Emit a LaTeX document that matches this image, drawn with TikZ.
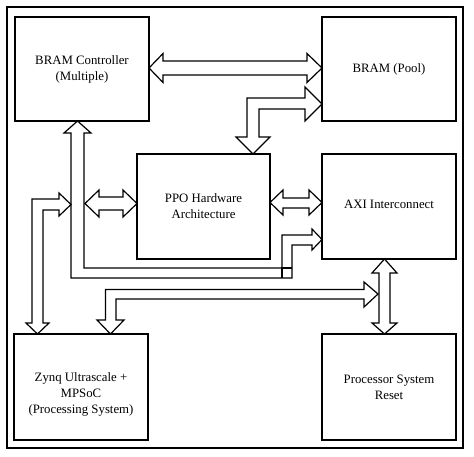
\documentclass[tikz,border=0pt]{standalone}
\usepackage{fontspec}
\setmainfont{Liberation Serif}
\begin{document}
\begin{tikzpicture}[x=1pt,y=-1pt,
  box/.style={draw, line width=1.3pt, rectangle, inner sep=0pt, align=center,
    font=\fontsize{12.8}{16}\selectfont},
  blockarrow/.style={draw, fill=white, line width=1.2pt, line join=miter},
  label/.style={align=center, inner sep=0pt, font=\fontsize{12.8}{16}\selectfont}]
\useasboundingbox (0,0) rectangle (474,456);
% outer frame
\draw[line width=1.5pt] (7,7) rectangle (463,448);
% boxes
\node[box, minimum width=134pt, minimum height=104pt] (bc)  at (82,69)    {BRAM Controller\\(Multiple)};
\node[box, minimum width=134pt, minimum height=104pt] (bp)  at (389,69)   {BRAM (Pool)};
\node[box, minimum width=133pt, minimum height=105pt] (ppo) at (203.5,206.5) {PPO Hardware\\Architecture};
\node[box, minimum width=134pt, minimum height=105pt] (axi) at (389,206.5) {};
\node[label] (axitext) at (389,204) {AXI Interconnect};
\node[box, minimum width=134pt, minimum height=106pt] (zynq) at (81,387)  {};
\node[label] (zynqtext) at (81,394) {Zynq Ultrascale +\\MPSoC\\(Processing System)};
\node[box, minimum width=134pt, minimum height=106pt] (psr) at (389,387)  {Processor System\\Reset};
% A: BRAM Controller <-> BRAM (Pool)
\draw[blockarrow] (149,68) -- (163,53.5) -- (163,61) -- (307,61) -- (307,53.5) -- (322,68)
  -- (307,82.5) -- (307,75) -- (163,75) -- (163,82.5) -- cycle;
% B: PPO <-> BRAM (Pool), bent
\draw[blockarrow] (322,104) -- (305,87) -- (305,98) -- (247,98) -- (247,137) -- (236,137)
  -- (253,154) -- (270,137) -- (259,137) -- (259,109) -- (305,109) -- (305,121) -- cycle;
% C: BRAM Controller -> AXI, bent
\draw[blockarrow] (77.5,121) -- (91,133) -- (84,133) -- (84,268) -- (282,268) -- (282,235)
  -- (312,235) -- (312,229) -- (322,239.5) -- (312,250) -- (312,245) -- (292,245)
  -- (292,278) -- (71,278) -- (71,133) -- (64,133) -- cycle;
\draw[line width=1.2pt] (282,278) -- (282,268) -- (292,268);
% D: Zynq <-> BRAM controller bus
\draw[blockarrow] (71,204.5) -- (59,193) -- (59,199) -- (32,199) -- (32,323) -- (26,323)
  -- (37.5,334) -- (49,323) -- (43,323) -- (43,210) -- (59,210) -- (59,216) -- cycle;
% E: bus <-> PPO
\draw[blockarrow] (85,203.5) -- (99,190) -- (99,197) -- (123,197) -- (123,190) -- (137,203.5)
  -- (123,217) -- (123,210) -- (99,210) -- (99,217) -- cycle;
% F: Zynq <-> AXI/Reset bus
\draw[blockarrow] (110.5,334) -- (124,320) -- (116,320) -- (116,299) -- (364,299) -- (364,307)
  -- (378,294) -- (364,282) -- (364,289.5) -- (105.5,289.5) -- (105.5,320) -- (97,320) -- cycle;
% G: AXI <-> Processor System Reset
\draw[blockarrow] (384.5,259) -- (397,273) -- (390,273) -- (390,323) -- (397,323) -- (384.5,334)
  -- (372,323) -- (379,323) -- (379,273) -- (372,273) -- cycle;
% H: PPO <-> AXI
\draw[blockarrow] (270,202.5) -- (283,190) -- (283,198) -- (309,198) -- (309,190) -- (322,202.5)
  -- (309,215) -- (309,208) -- (283,208) -- (283,215) -- cycle;
\end{tikzpicture}
\end{document}
